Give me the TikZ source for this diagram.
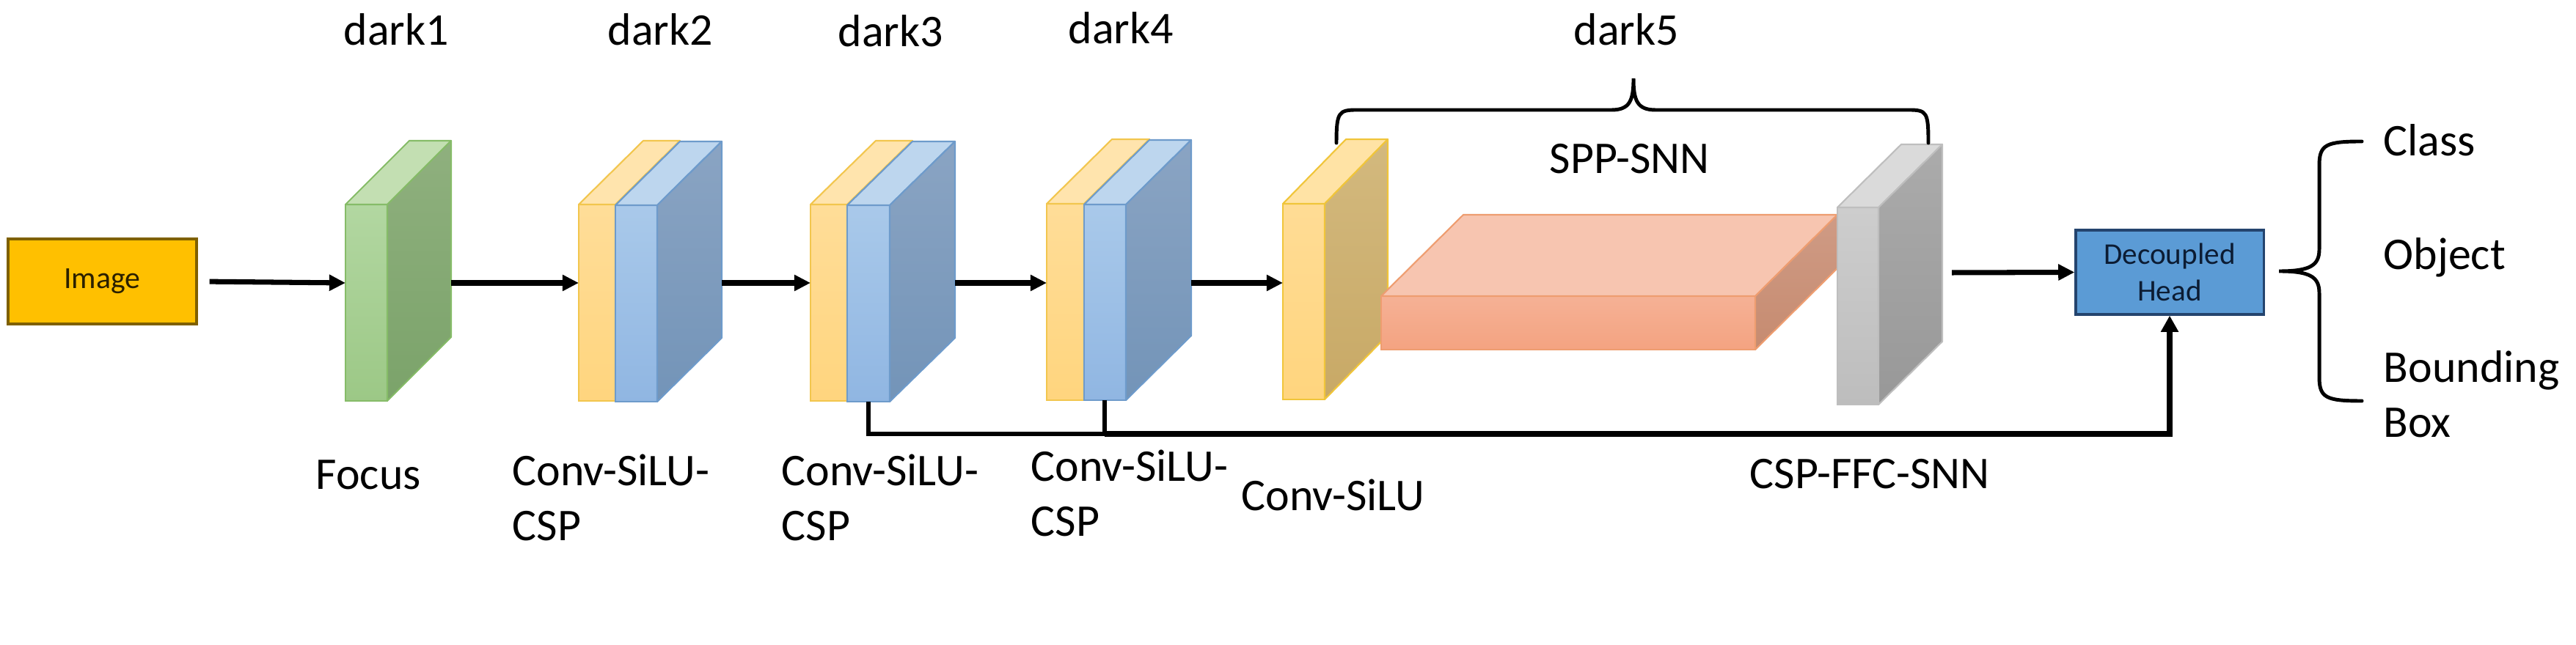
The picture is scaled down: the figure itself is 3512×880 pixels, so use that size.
\documentclass[tikz,border=0pt]{standalone}
\usepackage{fontspec}
\setmainfont{Carlito}
\usetikzlibrary{arrows.meta}
% green
\definecolor{gF1}{HTML}{B2D7A1}\definecolor{gF2}{HTML}{9CC886}\definecolor{gT}{HTML}{C3DFB2}
\definecolor{gS1}{HTML}{8FB07E}\definecolor{gS2}{HTML}{7BA36A}\definecolor{gB}{HTML}{86BC68}
% yellow (CSP)
\definecolor{yF1}{HTML}{FFDD98}\definecolor{yF2}{HTML}{FFD57E}\definecolor{yT}{HTML}{FFE4AD}
\definecolor{yS1}{HTML}{FFDD98}\definecolor{yS2}{HTML}{FFD57E}\definecolor{yB}{HTML}{F2C64E}
% blue
\definecolor{bF1}{HTML}{A9C9EA}\definecolor{bF2}{HTML}{90B6E2}\definecolor{bT}{HTML}{BDD6EE}
\definecolor{bS1}{HTML}{8AA4C3}\definecolor{bS2}{HTML}{7394B8}\definecolor{bB}{HTML}{6E9BCB}
% conv yellow
\definecolor{cF1}{HTML}{FFDC95}\definecolor{cF2}{HTML}{FFD57E}\definecolor{cT}{HTML}{FFE3A5}
\definecolor{cS1}{HTML}{D3B97E}\definecolor{cS2}{HTML}{C8A966}\definecolor{cB}{HTML}{F0C53A}
% orange
\definecolor{oF1}{HTML}{F5B195}\definecolor{oF2}{HTML}{F4A381}\definecolor{oT}{HTML}{F7C5B0}
\definecolor{oS1}{HTML}{CF9B85}\definecolor{oS2}{HTML}{C68B70}\definecolor{oB}{HTML}{EE9D70}
% gray
\definecolor{kF1}{HTML}{CDCDCD}\definecolor{kF2}{HTML}{BDBDBD}\definecolor{kT}{HTML}{DADADA}
\definecolor{kS1}{HTML}{ABABAB}\definecolor{kS2}{HTML}{989898}\definecolor{kB}{HTML}{BEBEBE}
% boxes
\definecolor{imgfill}{HTML}{FFC000}\definecolor{imgborder}{HTML}{7F6000}\definecolor{imgtext}{HTML}{2B2000}
\definecolor{headfill}{HTML}{5B9BD5}\definecolor{headborder}{HTML}{24446E}\definecolor{headtext}{HTML}{0C1C33}

\newcommand\cube[7]{% x, ytop, w, h, dx, dy, colour prefix
  \path[draw=#7B, line width=0.6pt, top color=#7F1, bottom color=#7F2] (#1,#2) rectangle ++(#3,#4);
  \path[draw=#7B, line width=0.6pt, fill=#7T, line join=round] (#1,#2) -- ++(#5,-#6) -- ++(#3,0) -- ++(-#5,#6) -- cycle;
  \path[draw=#7B, line width=0.6pt, top color=#7S1, bottom color=#7S2, line join=round] (#1+#3,#2) -- ++(#5,-#6) -- ++(0,#4) -- ++(-#5,#6) -- cycle;
}

\begin{document}
\begin{tikzpicture}[x=0.01cm, y=-0.01cm,
  arr/.style={line width=2pt, -{Triangle[length=6.3pt,width=6pt]}},
  skipthin/.style={line width=1.5pt},
  skipthick/.style={line width=2.2pt, -{Triangle[length=6.3pt,width=6.5pt]}},
  brace/.style={line width=1.4pt, line cap=round},
  lbl/.style={inner sep=0pt, anchor=base west, font=\fontsize{17.6}{21.3}\selectfont},
  imgbox/.style={draw=imgborder, line width=0.9pt, fill=imgfill, minimum width=2.57cm, minimum height=1.16cm, inner sep=0pt, text=imgtext, font=\fontsize{11.9}{14}\selectfont},
  headbox/.style={draw=headborder, line width=0.9pt, fill=headfill, minimum width=2.56cm, minimum height=1.15cm, inner sep=0pt, text=headtext, align=center, font=\fontsize{11.7}{14.2}\selectfont}
]
\useasboundingbox (0,0) rectangle (3512,880);
\fill[white] (0,0) rectangle (3512,880);

% input and head boxes
\node[imgbox] (img) at (139.5,384) {Image};
\node[headbox] (head) at (2958,371.5) {Decoupled\\Head};

% blocks
\cube{471}{279}{57}{268}{87}{87}{g}
\cube{789}{279}{50}{268}{88}{87}{y}
\cube{839}{280}{57}{268}{88}{87}{b}
\cube{1105}{279}{50}{268}{89}{87}{y}
\cube{1155}{280}{58}{268}{89}{87}{b}
\cube{1427}{278}{51}{268}{89}{88}{y}
\cube{1478}{279}{57}{267}{89}{88}{b}
\cube{1749}{278}{57}{267}{86}{88}{c}
\cube{1883}{404}{510}{73}{112}{111}{o}
\cube{2505}{283}{56}{269}{87}{86}{k}

% connector end points on the blocks
\coordinate (g-in) at (471,386);
\coordinate (g-out) at (615,386);
\coordinate (d2-in) at (789,386);
\coordinate (d2-out) at (984,386);
\coordinate (d3-in) at (1105,386);
\coordinate (d3-out) at (1302,386);
\coordinate (d4-in) at (1427,386);
\coordinate (d4-out) at (1624,386);
\coordinate (cv-in) at (1749,386);
\coordinate (gr-out) at (2661,372);
\coordinate (d3-b) at (1184,548);
\coordinate (d4-b) at (1506,546);
\coordinate (sk) at (2958,592);

% main flow arrows
\draw[arr, shorten <=0.16cm] (img.east) -- (g-in);
\draw[arr] (g-out) -- (d2-in);
\draw[arr] (d2-out) -- (d3-in);
\draw[arr] (d3-out) -- (d4-in);
\draw[arr] (d4-out) -- (cv-in);
\draw[arr] (gr-out) -- (head.west);

% skip connections
\draw[skipthin] (d3-b) |- (sk);
\draw[skipthin] (d4-b) -- (d4-b |- sk);
\draw[skipthick] (d4-b |- sk) -- (sk) -- (head.south);

% braces
\draw[brace] (1822,195) .. controls (1822,153) and (1825,150) .. (1850,150) -- (2197,150)
  .. controls (2222,150) and (2227,137) .. (2227,107)
  .. controls (2227,137) and (2232,150) .. (2257,150) -- (2602,150)
  .. controls (2627,150) and (2629,153) .. (2629,195);
\draw[brace] (3220,193) .. controls (3172,193) and (3162,197) .. (3162,225) -- (3162,340)
  .. controls (3162,362) and (3150,370) .. (3107,370)
  .. controls (3150,370) and (3162,378) .. (3162,400) -- (3162,515)
  .. controls (3162,543) and (3172,547) .. (3220,547);

% labels
\node[lbl] (l-dark1) at (468,62) {dark1};
\node[lbl] (l-dark2) at (828,62) {dark2};
\node[lbl] (l-dark3) at (1142,64) {dark3};
\node[lbl] (l-dark4) at (1456,60) {dark4};
\node[lbl] (l-dark5) at (2145,62) {dark5};
\node[lbl] (l-spp) at (2112,237) {SPP-SNN};
\node[lbl] (l-focus) at (430,668) {Focus};
\node[lbl] (l-c2) at (698,663) {\vtop{\hbox{Conv-SiLU-}\hbox{CSP}}};
\node[lbl] (l-c3) at (1065,663) {\vtop{\hbox{Conv-SiLU-}\hbox{CSP}}};
\node[lbl] (l-c4) at (1405,657) {\vtop{\hbox{Conv-SiLU-}\hbox{CSP}}};
\node[lbl] (l-cs) at (1692,697) {Conv-SiLU};
\node[lbl] (l-csp) at (2385,667) {CSP-FFC-SNN};
\node[lbl] (o-class) at (3249,213) {Class};
\node[lbl] (o-obj) at (3249,368) {Object};
\node[lbl] (o-bb) at (3249,522) {\vtop{\hbox{Bounding}\hbox{Box}}};
\end{tikzpicture}
\end{document}
